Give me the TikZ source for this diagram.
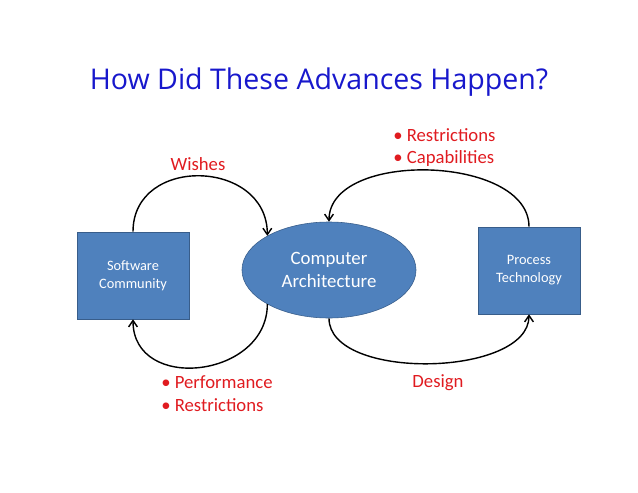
\documentclass[tikz,border=0pt]{standalone}
\usepackage{fontspec}
\setmainfont{Carlito}
\newfontfamily\headfont{Open Sans}
\usetikzlibrary{arrows.meta,shapes.geometric}
\definecolor{boxblue}{RGB}{79,129,189}
\definecolor{edgeblue}{RGB}{56,93,138}
\definecolor{labelred}{RGB}{224,27,32}
\definecolor{titleblue}{RGB}{24,24,204}

\begin{document}
\begin{tikzpicture}[
        x=0.025cm, y=-0.025cm,
        arrow/.style={-{Straight Barb[length=1.6mm,width=2.2mm]}, line width=1pt},
        block/.style={draw=edgeblue, fill=boxblue, text=white, inner sep=0pt,
                      align=center, minimum height=2.175cm,
                      font=\fontsize{10.2}{12.8}\selectfont},
        core/.style={ellipse, draw=edgeblue, fill=boxblue, text=white, inner sep=0pt,
                     align=center, minimum width=4.35cm, minimum height=2.4cm,
                     font=\fontsize{13.4}{16.3}\selectfont},
        note/.style={text=labelred, inner sep=0pt, align=left,
                     font=\fontsize{13.3}{16.3}\selectfont}
    ]
        \useasboundingbox (0,0) rectangle (638,493);

        \node[font=\headfont\fontsize{20.3}{25}\selectfont, text=titleblue] (title) at (319,82) {How Did These Advances Happen?};

        \node[block, minimum width=2.8cm] (software) at (133,275.5) {Software\\Community};
        \node[core] (archi) at (329,270) {Computer\\Architecture};
        \node[block, minimum width=2.55cm] (process) at (529,270.5) {Process\\Technology};

        \node[note] (wishes) at (198,164) {Wishes};
        \node[note, anchor=west] (limits) at (393,147.5) {\textbullet\ Restrictions\\\textbullet\ Capabilities};
        \node[note, anchor=west] (perf) at (161,393.5) {\textbullet\ Performance\\\textbullet\ Restrictions};
        \node[note] (design) at (438,383) {Design};

        \draw[arrow] (software.north) .. controls +(0,-77) and +(0,-77) .. (archi.151);
        \draw[arrow] (process.north) .. controls +(0,-72) and +(0,-72) .. (archi.north);
        \draw[arrow] (archi.209) .. controls +(0,74) and +(0,74) .. (software.south);
        \draw[arrow] (archi.south) .. controls +(0,63) and +(0,63) .. (process.south);
    \end{tikzpicture}
\end{document}
